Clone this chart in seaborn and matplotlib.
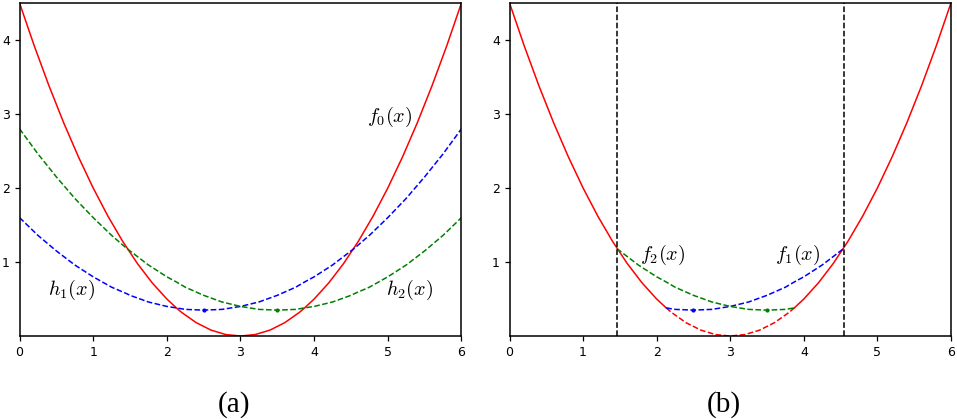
import matplotlib
matplotlib.use("Agg")
import matplotlib.pyplot as plt
import seaborn as sns
import numpy as np

plt.rcParams['mathtext.fontset'] = 'cm'

# f0 sampled on a coarse grid (red curve)
x_red = [0.0, 0.2, 0.4, 0.6, 0.8, 1.0, 1.2, 1.4, 1.6, 1.8, 2.0, 2.13, 2.2, 2.4, 2.6, 2.8,
         3.0, 3.2, 3.4, 3.6, 3.8, 3.87, 4.0, 4.2, 4.4, 4.6, 4.8, 5.0, 5.2, 5.4, 5.6, 5.8, 6.0]
f0 = [4.50, 3.92, 3.38, 2.88, 2.42, 2.00, 1.62, 1.28, 0.98, 0.72, 0.50, 0.38, 0.32, 0.18, 0.08, 0.02,
      0.00, 0.02, 0.08, 0.18, 0.32, 0.38, 0.50, 0.72, 0.98, 1.28, 1.62, 2.00, 2.42, 2.88, 3.38, 3.92, 4.50]

# h1 (blue) and h2 (green)
x_dash = [0.0, 0.25, 0.5, 0.75, 1.0, 1.25, 1.46, 1.5, 1.75, 2.0, 2.13, 2.25, 2.5, 2.75, 3.0,
          3.25, 3.5, 3.75, 3.87, 4.0, 4.25, 4.5, 4.54, 4.75, 5.0, 5.25, 5.5, 5.75, 6.0]
h1 = [1.60, 1.36, 1.15, 0.96, 0.80, 0.66, 0.57, 0.55, 0.46, 0.40, 0.38, 0.36, 0.35, 0.36, 0.40,
      0.46, 0.55, 0.66, 0.73, 0.80, 0.96, 1.15, 1.18, 1.36, 1.60, 1.86, 2.15, 2.46, 2.80]
h2 = [2.80, 2.46, 2.15, 1.86, 1.60, 1.36, 1.18, 1.15, 0.96, 0.80, 0.73, 0.66, 0.55, 0.46, 0.40,
      0.36, 0.35, 0.36, 0.38, 0.40, 0.46, 0.55, 0.57, 0.66, 0.80, 0.96, 1.15, 1.36, 1.60]

# minima of h1, h2
min_x = [2.5, 3.5]
min_y = [0.35, 0.35]

# where the curves cross
cross_outer = [1.46, 4.54]   # h2/f0 and h1/f0 upper crossings (vertical lines)
cross_inner = [2.13, 3.87]   # h1/f0 and h2/f0 lower crossings

xr = np.array(x_red)
yr = np.array(f0)
xd = np.array(x_dash)
y1 = np.array(h1)
y2 = np.array(h2)

fig = plt.figure(figsize=(9.57, 4.19), dpi=100)
ax1 = fig.add_axes([0.0204, 0.198, 0.4618, 0.795])
ax2 = fig.add_axes([0.5324, 0.198, 0.4613, 0.795])

# (a)
sns.lineplot(x=xr, y=yr, ax=ax1, color='r', lw=1.1, sort=False, estimator=None)
sns.lineplot(x=xd, y=y1, ax=ax1, color='b', lw=1.1, linestyle='--', sort=False, estimator=None)
sns.lineplot(x=xd, y=y2, ax=ax1, color='g', lw=1.1, linestyle='--', sort=False, estimator=None)
ax1.plot(min_x[0], min_y[0], '.', color='b', ms=4)
ax1.plot(min_x[1], min_y[1], '.', color='g', ms=4)
ax1.text(5.03, 2.96, r'$f_0(x)$', fontsize=14.5, ha='center', va='center')
ax1.text(0.71, 0.62, r'$h_1(x)$', fontsize=14.5, ha='center', va='center')
ax1.text(5.3, 0.62, r'$h_2(x)$', fontsize=14.5, ha='center', va='center')

# (b)
lo, hi = cross_inner
m = xr <= lo
sns.lineplot(x=xr[m], y=yr[m], ax=ax2, color='r', lw=1.1, sort=False, estimator=None)
m = xr >= hi
sns.lineplot(x=xr[m], y=yr[m], ax=ax2, color='r', lw=1.1, sort=False, estimator=None)
m = (xr >= lo) & (xr <= hi)
sns.lineplot(x=xr[m], y=yr[m], ax=ax2, color='r', lw=1.1, linestyle='--', sort=False, estimator=None)
m = (xd >= lo) & (xd <= cross_outer[1])
sns.lineplot(x=xd[m], y=y1[m], ax=ax2, color='b', lw=1.1, linestyle='--', sort=False, estimator=None)
m = (xd >= cross_outer[0]) & (xd <= hi)
sns.lineplot(x=xd[m], y=y2[m], ax=ax2, color='g', lw=1.1, linestyle='--', sort=False, estimator=None)
ax2.plot(min_x[0], min_y[0], '.', color='b', ms=4)
ax2.plot(min_x[1], min_y[1], '.', color='g', ms=4)
for xv in cross_outer:
    ax2.axvline(xv, color='k', lw=1.1, linestyle='--')
ax2.text(2.08, 1.09, r'$f_2(x)$', fontsize=14.5, ha='center', va='center')
ax2.text(3.92, 1.09, r'$f_1(x)$', fontsize=14.5, ha='center', va='center')

for ax in (ax1, ax2):
    ax.set_xlim(0, 6)
    ax.set_ylim(0, 4.5)
    ax.set_xticks([0, 1, 2, 3, 4, 5, 6])
    ax.set_yticks([1, 2, 3, 4])
    ax.tick_params(labelsize=9, width=0.9, length=3.5)
    for s in ax.spines.values():
        s.set_linewidth(1.1)
    ax.set_xlabel('')
    ax.set_ylabel('')

fig.text(0.2445, 0.035, '(a)', fontsize=21, family='Liberation Serif', ha='center', va='center')
fig.text(0.7565, 0.035, '(b)', fontsize=21, family='Liberation Serif', ha='center', va='center')

fig.savefig('out.png', dpi=100)
